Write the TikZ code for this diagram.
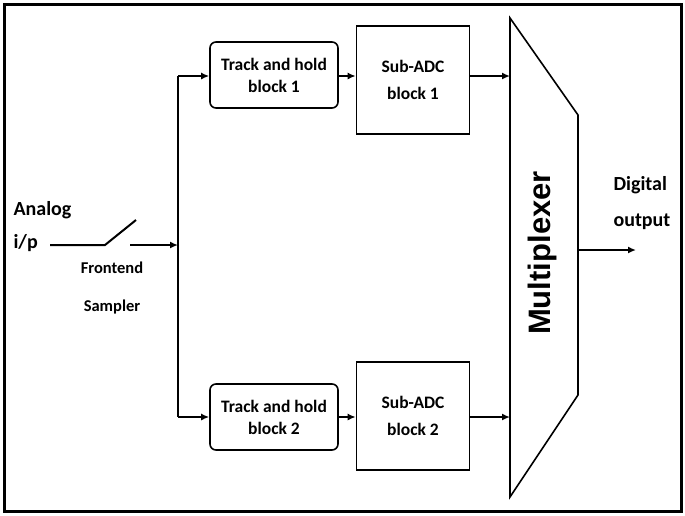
\documentclass[tikz,border=0pt]{standalone}
\usepackage{fontspec}
\setmainfont{Carlito}
\setsansfont{Liberation Sans}
\usetikzlibrary{arrows.meta}
\begin{document}
\begin{tikzpicture}[x=1pt,y=-1pt,
  ln/.style={line width=2pt},
  ar/.style={line width=2pt,-{Latex[length=8pt,width=7pt]}},
  box/.style={draw,line width=1.6pt,align=center,font=\bfseries\fontsize{17.5}{21}\selectfont},
  lbl/.style={font=\bfseries\fontsize{20}{24}\selectfont,align=left}]
\useasboundingbox (0,0) rectangle (685,515);
\draw[line width=3pt] (4,4) rectangle (681,511);
\node[lbl,anchor=west] (an) at (10,210) {Analog};
\node[lbl,anchor=west] (ip) at (10,243) {i/p};
\coordinate (s0) at (50,245);
\coordinate (s1) at (105,245);
\coordinate (s2) at (136,220);
\coordinate (s3) at (130,245);
\coordinate (j) at (178,245);
\draw[ln] (s0) -- (s1) -- (s2);
\draw[ar] (s3) -- (j);
\node[font=\bfseries\fontsize{16.5}{19}\selectfont] (fe) at (112,268) {Frontend};
\node[font=\bfseries\fontsize{16.5}{19}\selectfont] (sa) at (112,307) {Sampler};
\node[box,rounded corners=6pt,minimum width=128pt,minimum height=66pt] (th1) at (274,75) {Track and hold\\[1pt]block 1};
\node[box,rounded corners=6pt,minimum width=128pt,minimum height=66pt] (th2) at (274,417) {Track and hold\\[1pt]block 2};
\node[box,minimum width=113pt,minimum height=108pt] (ad1) at (413,80) {Sub-ADC\\[6pt]block 1};
\node[box,minimum width=113pt,minimum height=108pt] (ad2) at (413,416) {Sub-ADC\\[6pt]block 2};
\coordinate (t1) at (178,76);
\coordinate (t2) at (178,417);
\draw[ln] (t1) -- (t2);
\draw[ar] (t1) -- (th1.west|-t1);
\draw[ar] (t2) -- (th2.west|-t2);
\draw[ar] (th1.east|-t1) -- (ad1.west|-t1);
\draw[ar] (th2.east|-t2) -- (ad2.west|-t2);
\draw[line width=1.6pt] (510,18) -- (578,115) -- (578,395) -- (510,497) -- cycle;
\coordinate (m1) at (510,76);
\coordinate (m2) at (510,417);
\draw[ar] (ad1.east|-t1) -- (m1);
\draw[ar] (ad2.east|-t2) -- (m2);
\node[rotate=90,font=\sffamily\bfseries\fontsize{31}{34}\selectfont] (mux) at (542,253) {Multiplexer};
\coordinate (mo) at (578,250);
\coordinate (out) at (636,250);
\draw[ar] (mo) -- (out);
\node[lbl,anchor=west] (dg) at (610,185) {Digital};
\node[lbl,anchor=west] (op) at (610,222) {output};
\end{tikzpicture}
\end{document}
